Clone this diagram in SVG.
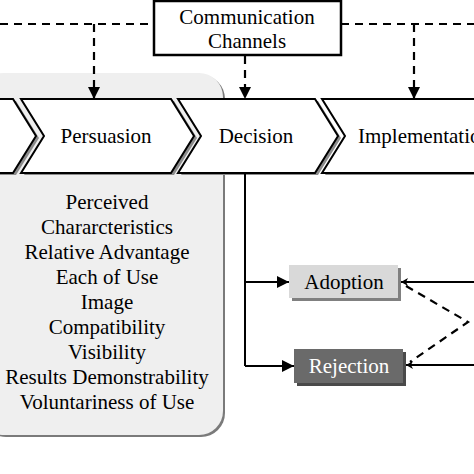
<svg xmlns="http://www.w3.org/2000/svg" width="474" height="474" viewBox="0 0 474 474">
<style>
text{font-family:"Liberation Serif","Times New Roman",Times,serif;font-size:21px;fill:#000}
.c{text-anchor:middle}
.chev{fill:#fff;stroke:#000;stroke-width:2;stroke-linejoin:miter}
.shad{fill:#8c8c8c}
.dash{fill:none;stroke:#000;stroke-width:2.2;stroke-dasharray:8 6}
.line{fill:none;stroke:#000;stroke-width:2}
</style>
<defs>
<marker id="tri" markerUnits="userSpaceOnUse" markerWidth="14" markerHeight="14" refX="12" refY="6" orient="auto">
<path d="M0,0 L12,6 L0,12 Z" fill="#000"/>
</marker>
<marker id="small" markerUnits="userSpaceOnUse" markerWidth="10" markerHeight="10" refX="7" refY="4" orient="auto">
<path d="M0,0 L7,4 L0,8 L2,4 Z" fill="#000"/>
</marker>
</defs>
<rect x="0" y="0" width="474" height="474" fill="#fff"/>

<g id="characteristics">
<rect x="-18" y="75" width="243" height="362" rx="24" fill="#7a7a7a"/>
<rect x="-20" y="73" width="243" height="362" rx="24" fill="#efefef"/>
<text class="c" x="107" y="209">Perceived</text>
<text class="c" x="107" y="234">Chararcteristics</text>
<text class="c" x="107" y="259">Relative Advantage</text>
<text class="c" x="107" y="284">Each of Use</text>
<text class="c" x="107" y="309">Image</text>
<text class="c" x="107" y="334">Compatibility</text>
<text class="c" x="107" y="359">Visibility</text>
<text class="c" x="107" y="384">Results Demonstrability</text>
<text class="c" x="107" y="409">Voluntariness of Use</text>
</g>

<g id="knowledge">
<polygon class="shad" points="-10,101 16,101 39,138 16,175 -10,175"/>
<polygon class="chev" points="-10,99 13,99 36,136 13,173 -10,173"/>
</g>
<g id="persuasion">
<polygon class="shad" points="24,101 174,101 197,138 174,175 24,175 47,138"/>
<polygon class="chev" points="21,99 171,99 194,136 171,173 21,173 44,136"/>
<text class="c" x="106" y="143">Persuasion</text>
</g>
<g id="decision">
<polygon class="shad" points="181,101 318,101 341,138 318,175 181,175 204,138"/>
<polygon class="chev" points="178,99 315,99 338,136 315,173 178,173 201,136"/>
<text class="c" x="256" y="143">Decision</text>
</g>
<g id="implementation">
<polygon class="shad" points="325,101 490,101 490,175 325,175 348,138"/>
<polygon class="chev" points="322,99 490,99 490,173 322,173 345,136"/>
<text x="358" y="143">Implementation</text>
</g>

<g id="channels">
<rect x="154" y="1" width="187" height="54" fill="#fff" stroke="#000" stroke-width="2.5"/>
<text class="c" x="247" y="24">Communication</text>
<text class="c" x="247" y="48">Channels</text>
</g>

<g id="adoption">
<rect x="292" y="268" width="109" height="33" fill="#808080"/>
<rect x="289" y="265" width="109" height="33" fill="#d9d9d9"/>
<text class="c" x="344" y="289">Adoption</text>
</g>
<g id="rejection">
<rect x="297" y="352" width="109" height="34" fill="#4a4a4a"/>
<rect x="294" y="349" width="109" height="34" fill="#6a6a6a"/>
<text class="c" x="349" y="373" style="fill:#fff">Rejection</text>
</g>

<g id="connectors">
<path class="dash" d="M0,24 H154"/>
<path class="dash" d="M341,24 H474"/>
<path class="dash" d="M94,24 V99" marker-end="url(#tri)"/>
<path class="dash" d="M245,56 V99" marker-end="url(#tri)"/>
<path class="dash" d="M414,24 V99" marker-end="url(#tri)"/>
<path class="line" d="M245,173 V366"/>
<path class="line" d="M245,282 H289" marker-end="url(#tri)"/>
<path class="line" d="M245,366 H294" marker-end="url(#tri)"/>
<path class="line" d="M474,282 H401" marker-end="url(#small)"/>
<path class="line" d="M474,365 H406" marker-end="url(#small)"/>
<path class="dash" d="M406,286 L468,322 L410,362"/>
</g>
</svg>
